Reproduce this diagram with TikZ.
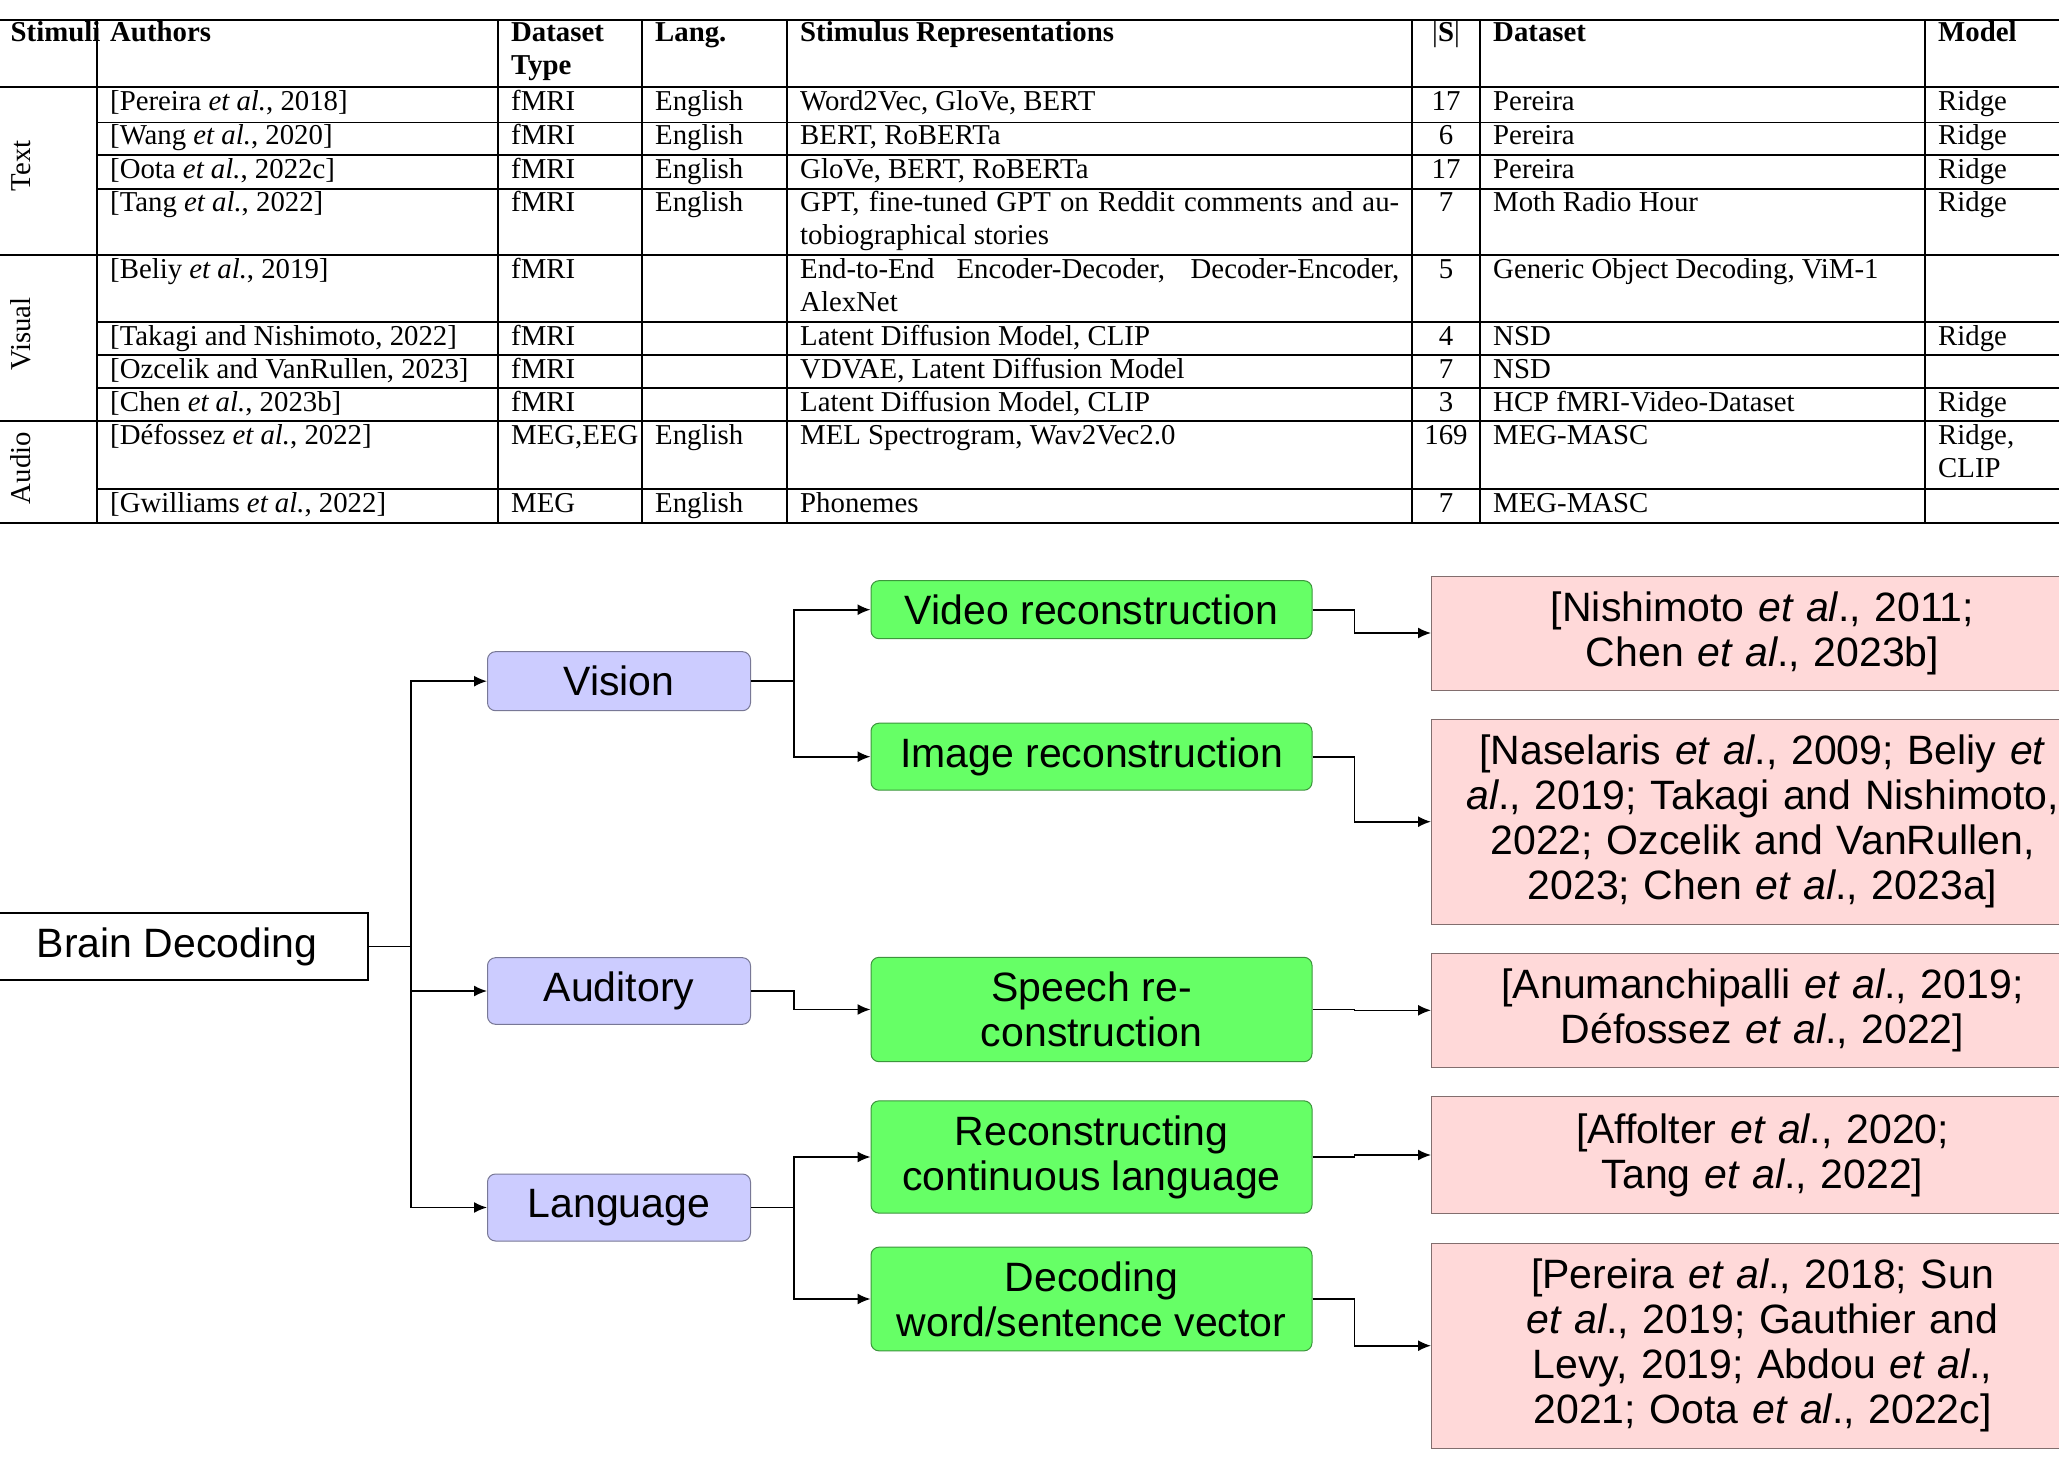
\documentclass[tikz,border=0pt]{standalone}
\usepackage{fontspec}
\setmainfont{Liberation Serif}
\newfontfamily\dsans{Liberation Sans}
\usetikzlibrary{arrows.meta}

\definecolor{lav}{RGB}{204,204,255}
\definecolor{lavline}{RGB}{120,120,150}
\definecolor{grn}{RGB}{102,255,102}
\definecolor{grnline}{RGB}{60,150,60}
\definecolor{pnk}{RGB}{255,217,217}
\definecolor{pnkline}{RGB}{130,110,110}

\newcommand{\tc}[3]{\node[tcell] at (#1,#2) {#3};}
\newcommand{\tcc}[3]{\node[tcellc] at (#1,#2) {#3};}
\newcommand{\etal}{\textit{et al.}}

\begin{document}
\begin{tikzpicture}[x=1pt,y=-1pt,
  hl/.style={line width=1.8pt},
  vl/.style={line width=1.5pt},
  tcell/.style={anchor=base west,inner sep=0pt,font=\fontsize{28.8}{33.5}\selectfont},
  tcellc/.style={tcell,anchor=base},
  rot/.style={inner sep=0pt,rotate=90,font=\fontsize{28.8}{33.5}\selectfont},
  dfont/.style={font=\dsans\fontsize{41}{45}\selectfont},
  root/.style={dfont,draw=black,line width=2pt,fill=white,minimum width=382pt,minimum height=67pt,inner sep=0pt},
  cat/.style={dfont,draw=lavline,fill=lav,rounded corners=8pt,line width=1pt,minimum width=263pt,inner sep=0pt},
  task/.style={dfont,draw=grnline,fill=grn,rounded corners=8pt,line width=1pt,minimum width=441pt,inner sep=0pt,align=center},
  refbox/.style={dfont,draw=pnkline,fill=pnk,line width=1pt,text width=640pt,inner xsep=11pt,inner ysep=0pt,align=center,anchor=west},
  conn/.style={line width=1.6pt,-{Latex[length=13pt,width=11pt]}},
]
\useasboundingbox (0,0) rectangle (2059,1463);
\clip (0,0) rectangle (2059,1463);
\fill[white] (0,0) rectangle (2059,1463);

% ---------------- table rules ----------------
\foreach \y in {20,87,255,421,523} \draw[hl] (0,\y) -- (2059,\y);
\foreach \y in {122.5,155,189,322,355,388,489} \draw[hl] (97,\y) -- (2059,\y);
\foreach \x in {97,498,642,787,1412,1480,1925} \draw[vl] (\x,20) -- (\x,523);

% ---------------- header ----------------
\tc{10.5}{42}{\textbf{Stimuli}}
\tc{110}{42}{\textbf{Authors}}
\tc{511}{42}{\textbf{Dataset}}
\tc{511}{75}{\textbf{Type}}
\tc{655}{42}{\textbf{Lang.}}
\tc{800}{42}{\textbf{Stimulus Representations}}
\tcc{1446}{42}{|\textbf{S}|}
\tc{1493}{42}{\textbf{Dataset}}
\tc{1938}{42}{\textbf{Model}}

% ---------------- group labels ----------------
\node[rot] (gtext) at (21,166) {Text};
\node[rot] (gvisual) at (21,334) {Visual};
\node[rot] (gaudio) at (21,468) {Audio};

% ---------------- rows ----------------
% Text
\tc{110}{111}{[Pereira \etal, 2018]}
\tc{511}{111}{fMRI} \tc{655}{111}{English}
\tc{800}{111}{Word2Vec, GloVe, BERT}
\tcc{1446}{111}{17} \tc{1493}{111}{Pereira} \tc{1938}{111}{Ridge}

\tc{110}{145}{[Wang \etal, 2020]}
\tc{511}{145}{fMRI} \tc{655}{145}{English}
\tc{800}{145}{BERT, RoBERTa}
\tcc{1446}{145}{6} \tc{1493}{145}{Pereira} \tc{1938}{145}{Ridge}

\tc{110}{178.5}{[Oota \etal, 2022c]}
\tc{511}{178.5}{fMRI} \tc{655}{178.5}{English}
\tc{800}{178.5}{GloVe, BERT, RoBERTa}
\tcc{1446}{178.5}{17} \tc{1493}{178.5}{Pereira} \tc{1938}{178.5}{Ridge}

\tc{110}{212}{[Tang \etal, 2022]}
\tc{511}{212}{fMRI} \tc{655}{212}{English}
\tc{800}{212}{\makebox[599pt][s]{GPT, fine-tuned GPT on Reddit comments and au-}}
\tc{800}{245}{tobiographical stories}
\tcc{1446}{212}{7} \tc{1493}{212}{Moth Radio Hour} \tc{1938}{212}{Ridge}

% Visual
\tc{110}{278.5}{[Beliy \etal, 2019]}
\tc{511}{278.5}{fMRI}
\tc{800}{278.5}{\makebox[599pt][s]{End-to-End Encoder-Decoder, Decoder-Encoder,}}
\tc{800}{311.5}{AlexNet}
\tcc{1446}{278.5}{5} \tc{1493}{278.5}{Generic Object Decoding, ViM-1}

\tc{110}{345}{[Takagi and Nishimoto, 2022]}
\tc{511}{345}{fMRI}
\tc{800}{345}{Latent Diffusion Model, CLIP}
\tcc{1446}{345}{4} \tc{1493}{345}{NSD} \tc{1938}{345}{Ridge}

\tc{110}{378.5}{[Ozcelik and VanRullen, 2023]}
\tc{511}{378.5}{fMRI}
\tc{800}{378.5}{VDVAE, Latent Diffusion Model}
\tcc{1446}{378.5}{7} \tc{1493}{378.5}{NSD}

\tc{110}{411.5}{[Chen \etal, 2023b]}
\tc{511}{411.5}{fMRI}
\tc{800}{411.5}{Latent Diffusion Model, CLIP}
\tcc{1446}{411.5}{3} \tc{1493}{411.5}{HCP fMRI-Video-Dataset} \tc{1938}{411.5}{Ridge}

% Audio
\tc{110}{444.5}{[Défossez \etal, 2022]}
\tc{511}{444.5}{MEG,EEG} \tc{655}{444.5}{English}
\tc{800}{444.5}{MEL Spectrogram, Wav2Vec2.0}
\tcc{1446}{444.5}{169} \tc{1493}{444.5}{MEG-MASC}
\tc{1938}{444.5}{Ridge,} \tc{1938}{477.5}{CLIP}

\tc{110}{512.5}{[Gwilliams \etal, 2022]}
\tc{511}{512.5}{MEG} \tc{655}{512.5}{English}
\tc{800}{512.5}{Phonemes}
\tcc{1446}{512.5}{7} \tc{1493}{512.5}{MEG-MASC}

% ---------------- diagram ----------------
\node[root] (bd) at (177,946.4) {Brain Decoding};

\node[cat,minimum height=59pt] (vis) at (619,681.2) {Vision};
\node[cat,minimum height=66.6pt] (aud) at (619,991) {Auditory};
\node[cat,minimum height=67pt] (lang) at (619,1207.5) {Language};

\node[task,minimum height=58pt] (video) at (1091.5,609.7) {Video reconstruction};
\node[task,minimum height=67pt] (image) at (1091.5,756.7) {Image reconstruction};
\node[task,minimum height=104.4pt] (speech) at (1091.5,1009.5) {Speech re-\\construction};
\node[task,minimum height=112.3pt] (recon) at (1091.5,1157) {Reconstructing\\continuous language};
\node[task,minimum height=103.7pt] (wvec) at (1091.5,1299) {Decoding\\word/sentence vector};

\node[refbox,minimum height=114pt] (r1) at (1431,633) {[Nishimoto \textit{et al}., 2011;\\Chen \textit{et al}., 2023b]};
\node[refbox,minimum height=205.3pt] (r2) at (1431,821.7) {[Naselaris \textit{et al}., 2009; Beliy \textit{et}\\\textit{al}., 2019; Takagi and Nishimoto,\\2022; Ozcelik and VanRullen,\\2023; Chen \textit{et al}., 2023a]};
\node[refbox,minimum height=114pt] (r3) at (1431,1010.3) {[Anumanchipalli \textit{et al}., 2019;\\Défossez \textit{et al}., 2022]};
\node[refbox,minimum height=116.6pt] (r4) at (1431,1155) {[Affolter \textit{et al}., 2020;\\Tang \textit{et al}., 2022]};
\node[refbox,minimum height=205.3pt] (r5) at (1431,1345.7) {[Pereira \textit{et al}., 2018; Sun\\\textit{et al}., 2019; Gauthier and\\Levy, 2019; Abdou \textit{et al}.,\\2021; Oota \textit{et al}., 2022c]};

% connectors
\draw[conn] (bd.east) -- ++(42,0) |- (vis.west);
\draw[conn] (bd.east) -- ++(42,0) |- (aud.west);
\draw[conn] (bd.east) -- ++(42,0) |- (lang.west);

\draw[conn] (vis.east) -- ++(43,0) |- (video.west);
\draw[conn] (vis.east) -- ++(43,0) |- (image.west);
\draw[conn] (aud.east) -- ++(43,0) |- (speech.west);
\draw[conn] (lang.east) -- ++(43,0) |- (recon.west);
\draw[conn] (lang.east) -- ++(43,0) |- (wvec.west);

\draw[conn] (video.east) -- ++(42,0) |- (r1.west);
\draw[conn] (image.east) -- ++(42,0) |- (r2.west);
\draw[conn] (speech.east) -- ++(42,0) |- (r3.west);
\draw[conn] (recon.east) -- ++(42,0) |- (r4.west);
\draw[conn] (wvec.east) -- ++(42,0) |- (r5.west);
\end{tikzpicture}
\end{document}
